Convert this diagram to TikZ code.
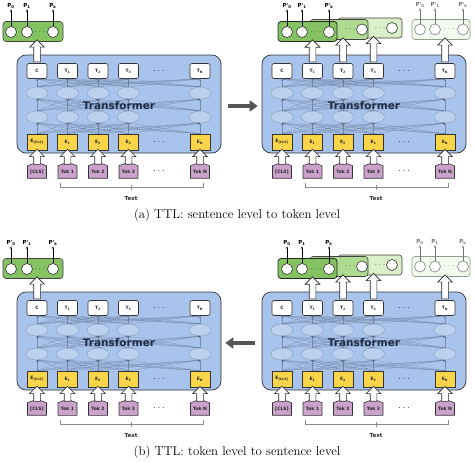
\documentclass[tikz,border=0pt]{standalone}
\usepackage{fontspec}
\usetikzlibrary{positioning,shapes.geometric,shapes.arrows,shapes.symbols,arrows.meta}
\newfontfamily\vfont{DejaVu Sans}
\definecolor{bertblue}{HTML}{A9C4EC}
\definecolor{layerblue}{HTML}{BCD1F0}
\definecolor{layerline}{HTML}{8A9BB8}
\definecolor{linkgray}{HTML}{56657F}
\definecolor{embyellow}{HTML}{FAD54A}
\definecolor{tokpink}{HTML}{CBA2CB}
\definecolor{outgreen}{HTML}{84C262}
\definecolor{outgreenb}{HTML}{AEDB8F}
\definecolor{outgreenc}{HTML}{DBF0CA}
\definecolor{outgreend}{HTML}{F4FAEF}
\definecolor{ghostline}{HTML}{8E9E88}
\definecolor{navytext}{HTML}{1C2B45}
\definecolor{shiftgray}{HTML}{555555}

\begin{document}
\begin{tikzpicture}[x=1pt,y=1pt,
    lab/.style={font=\vfont\bfseries\fontsize{4.5}{5}\selectfont, text=black!85},
    panel/.style={draw=black!80, fill=bertblue, rounded corners=9pt, line width=0.7pt, minimum width=204pt, minimum height=98pt},
    layer/.style={ellipse, draw=layerline, fill=layerblue, line width=0.4pt, minimum width=22pt, minimum height=12pt, inner sep=0pt},
    hidbox/.style={lab, draw=black!80, fill=white, rounded corners=2pt, minimum width=20pt, minimum height=15pt, inner sep=0pt, line width=0.6pt},
    embbox/.style={hidbox, fill=embyellow, rounded corners=0pt, minimum height=16pt},
    tokbox/.style={lab, signal, signal to=north, signal pointer angle=140, draw=black!80, fill=tokpink, minimum width=19pt, minimum height=15pt, inner sep=0pt, line width=0.6pt},
    hollow/.style={single arrow, draw=black!85, fill=white, line width=0.6pt, shape border rotate=90, inner sep=3pt, single arrow head extend=4pt},
    link/.style={draw=linkgray, draw opacity=0.6, line width=0.25pt, -{Stealth[length=2pt,width=1.6pt]}},
    rowdots/.style={font=\bfseries, text=black!80, inner sep=0pt},
    obox/.style={draw=black!75, rounded corners=3pt, minimum height=20pt, line width=0.6pt},
    unit/.style={circle, draw=black!80, fill=white, minimum size=11pt, inner sep=0pt, line width=0.6pt},
    plab/.style={font=\vfont\bfseries\fontsize{5.5}{6}\selectfont, inner sep=0.5pt},
    up/.style={line width=0.5pt, -{Stealth[length=2.5pt,width=2pt]}},
    bracket/.style={draw=black!45, line width=0.6pt},
    stagearrow/.style={draw=shiftgray, line width=4pt, -{Triangle[length=8pt,width=11pt]}},
    caption/.style={font=\fontsize{12.8}{15}\selectfont, inner sep=0pt}]

\useasboundingbox (0,0) rectangle (474,-461);

% the four encoder panels
\foreach \p/\dx/\dy in {a/0/0, b/245/0, c/0/-237, d/245/-237}{
  \begin{scope}[shift={(\dx,\dy)}]
    \node[panel] (\p-box) at (119,-104) {};
    \foreach \i/\x/\tl/\el/\kl in {0/37/C/{E\textsubscript{[CLS]}}/{[CLS]},
        1/67.5/{T\textsubscript{1}}/{E\textsubscript{1}}/{Tok 1},
        2/98/{T\textsubscript{2}}/{E\textsubscript{2}}/{Tok 2},
        3/128.5/{T\textsubscript{3}}/{E\textsubscript{3}}/{Tok 3},
        4/200/{T\textsubscript{N}}/{E\textsubscript{N}}/{Tok N}}{
      \node[layer] (\p-la\i) at (\x,-117) {};
      \node[layer] (\p-lb\i) at (\x,-93) {};
      \node[hidbox] (\p-t\i) at (\x,-71) {\tl};
      \node[embbox] (\p-e\i) at (\x,-142) {\el};
      \node[tokbox] (\p-k\i) at (\x,-172) {\kl};
    }
    \node[rowdots] (\p-tdots) at (159,-71) {$\cdots$};
    \node[rowdots] (\p-edots) at (159,-142) {$\cdots$};
    \node[rowdots] (\p-kdots) at (159,-171) {$\cdots$};
    \foreach \i in {0,...,4}{
      \foreach \j in {0,...,4}{
        \draw[link] (\p-e\i.north) -- (\p-la\j.south);
        \draw[link] (\p-la\i.north) -- (\p-lb\j.south);
        \draw[link] (\p-lb\i.north) -- (\p-t\j.south);
      }
      \path (\p-k\i.north) -- (\p-e\i.south) node[pos=0.3, hollow, minimum height=15pt] {};
    }
    \node[font=\vfont\bfseries\fontsize{10.5}{12}\selectfont, text=navytext] (\p-name) at (119,-106) {Transformer};
    % input bracket
    \node[lab, font=\vfont\bfseries\fontsize{5.5}{6}\selectfont] (\p-text) at (131,-198.5) {Text};
    \draw[bracket] ([xshift=-7pt,yshift=-4pt]\p-k1.south) -- ++(0,-5) -| ([xshift=3pt,yshift=-4pt]\p-k4.south);
    \draw[bracket] ([yshift=3pt]\p-text.north) -- ++(0,5);
  \end{scope}
}

% sentence level heads
\foreach \p/\dx/\dy/\pl in {a/0/0/{}, c/0/-237/{'}}{
  \begin{scope}[shift={(\dx,\dy)}]
    \node[obox, fill=outgreen, minimum width=60pt] (\p-o1) at (33,-31.5) {};
    \node[unit] (\p-u0) at (11,-32) {};
    \node[unit] (\p-u1) at (27,-32) {};
    \node[unit] (\p-u2) at (53,-32) {};
    \node[rowdots, font=\small] (\p-udots) at (40,-32) {$\cdots$};
    \node[plab] (\p-p0) at (11,-6) {P\pl\textsubscript{0}};
    \node[plab] (\p-p1) at (27,-6) {P\pl\textsubscript{1}};
    \node[plab] (\p-p2) at (53,-6) {P\pl\textsubscript{k}};
    \foreach \i in {0,1,2}
      \draw[up] (\p-u\i.north) -- (\p-p\i.south);
    \path (\p-t0.north) -- (\p-t0.north |- \p-o1.south) node[midway, hollow, minimum height=22pt] {};
  \end{scope}
}

% token level heads
\foreach \p/\dx/\dy/\pl in {b/245/0/{'}, d/245/-237/{}}{
  \begin{scope}[shift={(\dx,\dy)}]
    \node[obox, fill=outgreend, draw=ghostline, minimum width=58pt] (\p-o4) at (196,-29.5) {};
    \node[obox, fill=outgreenc, minimum width=64pt] (\p-o3) at (125,-28) {};
    \node[unit] (\p-o3u) at (147,-28) {};
    \node[rowdots, font=\small] (\p-o3d) at (135,-28) {$\cdots$};
    \node[obox, fill=outgreenb, minimum width=58pt] (\p-o2) at (94,-29.5) {};
    \node[unit] (\p-o2u) at (117,-29.5) {};
    \node[rowdots, font=\small] (\p-o2d) at (105,-29.5) {$\cdots$};
    \node[obox, fill=outgreen, draw=black!85, line width=0.8pt, minimum width=59pt] (\p-o1) at (62.5,-31.5) {};
    \node[unit] (\p-u0) at (42,-32) {};
    \node[unit] (\p-u1) at (57,-32) {};
    \node[unit] (\p-u2) at (84,-32) {};
    \node[rowdots, font=\small] (\p-udots) at (71,-32) {$\cdots$};
    \node[plab] (\p-p0) at (42,-6) {P\pl\textsubscript{0}};
    \node[plab] (\p-p1) at (57,-6) {P\pl\textsubscript{1}};
    \node[plab] (\p-p2) at (84,-6) {P\pl\textsubscript{k}};
    \node[unit, draw=black!50] (\p-v0) at (175,-29.5) {};
    \node[unit, draw=black!50] (\p-v1) at (190,-29.5) {};
    \node[unit, draw=black!50] (\p-v2) at (218,-29.5) {};
    \node[rowdots, font=\small, text=black!55] (\p-vdots) at (204,-29.5) {$\cdots$};
    \node[plab, text=black!55] (\p-q0) at (175,-5) {P\pl\textsubscript{0}};
    \node[plab, text=black!55] (\p-q1) at (190,-5) {P\pl\textsubscript{1}};
    \node[plab, text=black!55] (\p-q2) at (218,-5) {P\pl\textsubscript{k}};
    \foreach \i in {0,1,2}{
      \draw[up] (\p-u\i.north) -- (\p-p\i.south);
      \draw[up, draw=black!55] (\p-v\i.north) -- (\p-q\i.south);
    }
    \foreach \i/\len in {1/22,2/24,3/25.5,4/24}
      \path (\p-t\i.north) -- (\p-t\i.north |- \p-o\i.south) node[midway, hollow, minimum height=\len pt] {};
  \end{scope}
}

\draw[stagearrow] ([xshift=7pt,yshift=-2pt]a-box.east) -- ([xshift=-4pt,yshift=-2pt]b-box.west);
\draw[stagearrow] ([xshift=-7pt,yshift=-2pt]d-box.west) -- ([xshift=4pt,yshift=-2pt]c-box.east);

\node[caption] (capa) at (237,-215) {(a) TTL: sentence level to token level};
\node[caption] (capb) at (237,-452) {(b) TTL: token level to sentence level};
\end{tikzpicture}
\end{document}
